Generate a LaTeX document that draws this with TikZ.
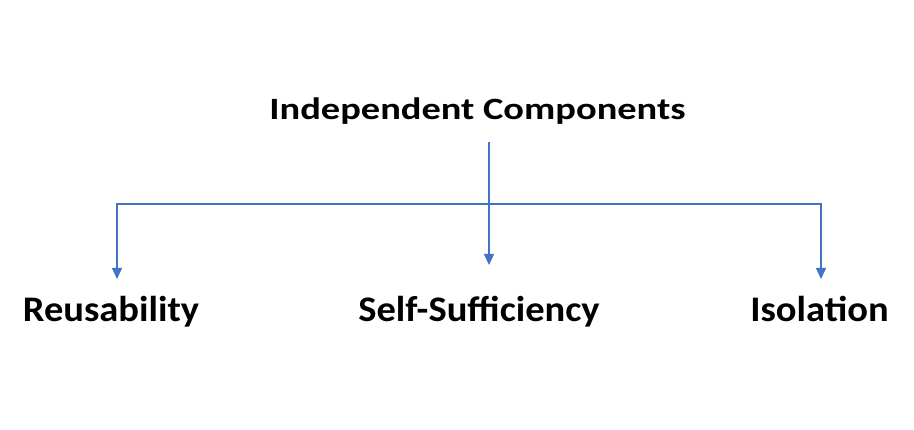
\documentclass[tikz,border=0pt]{standalone}
\usepackage{fontspec}
\setmainfont{Carlito}
\newfontfamily\titlewide[FakeStretch=1.24]{Carlito}
\newfontfamily\branchwide[FakeStretch=1.07]{Carlito}
\usetikzlibrary{arrows.meta}
\definecolor{linkblue}{HTML}{4472C4}
\tikzset{
  heading/.style={anchor=base, font=\titlewide\fontsize{31}{36}\selectfont\bfseries, inner sep=0pt},
  branch/.style={anchor=base, font=\branchwide\fontsize{36}{42}\selectfont\bfseries, inner sep=0pt},
  link/.style={draw=linkblue, line width=1.2pt, -{Triangle[width=10pt,length=11pt]}}
}
\begin{document}
\begin{tikzpicture}[x=1pt,y=-1pt]
                \useasboundingbox (0,0) rectangle (914,430);
                \node[heading] (comp) at (477.5,120) {Independent Components};
                \node[branch] (reuse) at (111,322) {Reusability};
                \node[branch] (self) at (479,322) {Self-Sufficiency};
                \node[branch] (iso) at (819.5,322) {Isolation};

                \coordinate (stem) at (489,142);
                \coordinate (bar) at (489,204);
                \coordinate (reusetip) at (117,279);
                \coordinate (selftip) at (489,265);
                \coordinate (isotip) at (821,279);

                \draw[link] (stem) to (selftip);
                \draw[link, {Triangle[width=10pt,length=11pt]}-{Triangle[width=10pt,length=11pt]}] (reusetip) |- (bar) -| (isotip);
            \end{tikzpicture}
\end{document}
